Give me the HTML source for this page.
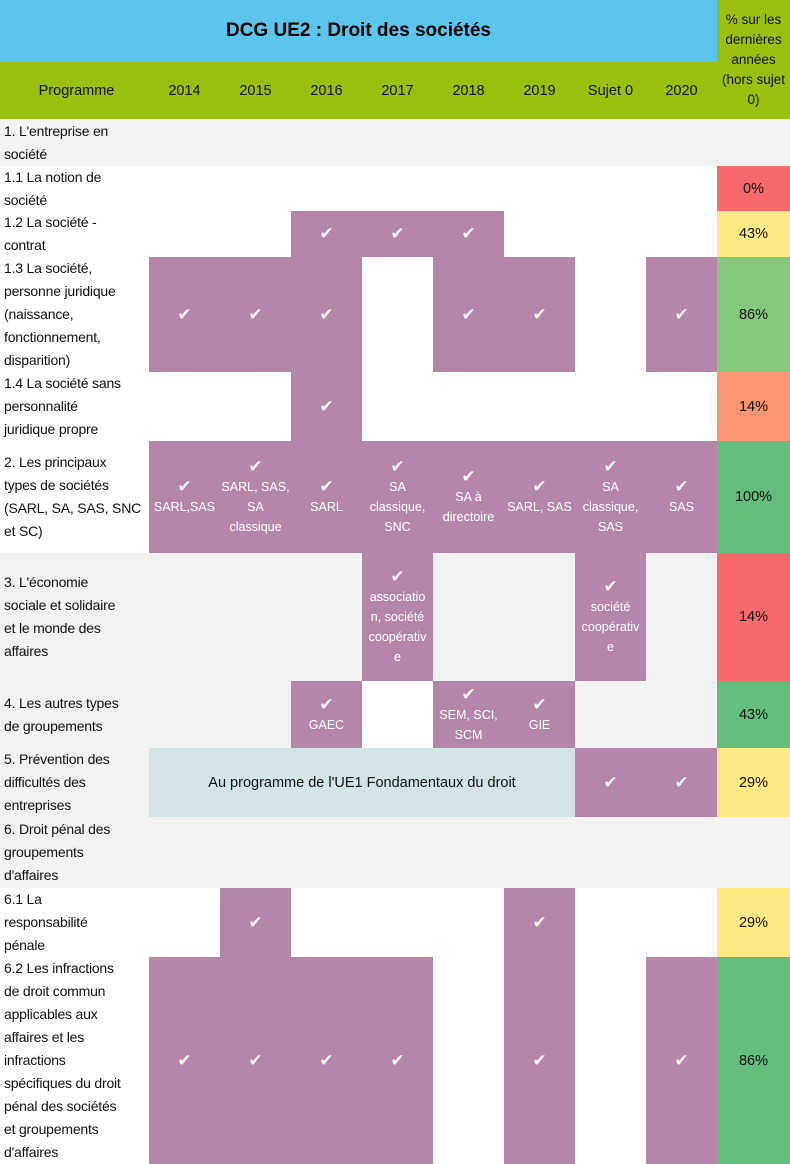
<!DOCTYPE html>
<html><head><meta charset="utf-8"><style>
body{margin:0;width:790px;height:1164px;position:relative;overflow:hidden;background:#fff;font-family:"Liberation Sans",sans-serif;}
.a{position:absolute;box-sizing:border-box;display:flex;align-items:center;justify-content:center;text-align:center;}
.lab{justify-content:flex-start;text-align:left;padding-left:4px;font-size:14px;line-height:23px;color:#111;white-space:nowrap;letter-spacing:-0.2px;}
.pc{font-size:14.5px;color:#111;}
.cell{flex-direction:column;color:#fff;font-size:12.5px;line-height:20px;white-space:nowrap;}
.ck{font-family:"DejaVu Sans",sans-serif;font-size:17px;line-height:20px;color:#f4f4f4;}
</style></head><body>
<div class="a" style="left:0;top:0;width:717px;height:62px;background:#5bc5ed;font-weight:bold;font-size:19px;">DCG UE2 : Droit des sociétés</div>
<div class="a" style="left:0;top:62px;width:717px;height:57px;background:#99c00e;"></div>
<div class="a" style="left:717px;top:0;width:73px;height:119px;background:#99c00e;font-size:13.5px;line-height:20px;color:#111;">% sur les<br>dernières<br>années<br>(hors sujet<br>0)</div>
<div id="root"></div>
<script>
const years=["2014","2015","2016","2017","2018","2019","Sujet 0","2020"];
const rowY=[119,166,211,257,372,441,553,681,748,817,888,957,1164];
const labels=[["1. L'entreprise en","société"],["1.1 La notion de","société"],["1.2 La société -","contrat"],["1.3 La société,","personne juridique","(naissance,","fonctionnement,","disparition)"],["1.4 La société sans","personnalité","juridique propre"],["2. Les principaux","types de sociétés","(SARL, SA, SAS, SNC","et SC)"],["3. L'économie","sociale et solidaire","et le monde des","affaires"],["4. Les autres types","de groupements"],["5. Prévention des","difficultés des","entreprises"],["6. Droit pénal des","groupements","d'affaires"],["6.1 La","responsabilité","pénale"],["6.2 Les infractions","de droit commun","applicables aux","affaires et les","infractions","spécifiques du droit","pénal des sociétés","et groupements","d'affaires"]];
const percents=["","0%","43%","86%","14%","100%","14%","43%","29%","","29%","86%"];
const pctColors=["","#f8696b","#ffe984","#85c87c","#fa9473","#63be7b","#f8696b","#63be7b","#ffe984","","#ffe984","#63be7b"];
const grayRows=[0,6,7,8,9];
const cells=[[2,2,[]],[2,3,[]],[2,4,[]],
[3,0,[]],[3,1,[]],[3,2,[]],[3,4,[]],[3,5,[]],[3,7,[]],
[4,2,[]],
[5,0,["SARL,SAS"]],[5,1,["SARL, SAS,","SA","classique"]],[5,2,["SARL"]],[5,3,["SA","classique,","SNC"]],[5,4,["SA à","directoire"]],[5,5,["SARL, SAS"]],[5,6,["SA","classique,","SAS"]],[5,7,["SAS"]],
[6,3,["associatio","n, société","coopérativ","e"]],[6,6,["société","coopérativ","e"]],
[7,2,["GAEC"]],[7,4,["SEM, SCI,","SCM"]],[7,5,["GIE"]],
[8,6,[]],[8,7,[]],
[10,1,[]],[10,5,[]],
[11,0,[]],[11,1,[]],[11,2,[]],[11,3,[]],[11,5,[]],[11,7,[]]];
const root=document.getElementById('root');
const colX=c=>149+c*71;
function div(cls,st,html){const d=document.createElement('div');d.className='a '+cls;d.style.cssText=st;d.innerHTML=html;root.appendChild(d);return d;}
const ph=div('', 'left:4px;top:62px;width:145px;height:57px;font-size:14.5px;color:#111;', 'Programme');


years.forEach((y,i)=>{const d=div('','left:'+colX(i)+'px;top:62px;width:71px;height:57px;font-size:14.5px;color:#111;',y);

});
labels.forEach((l,r)=>{
 const t=rowY[r],h=rowY[r+1]-t;
 if(grayRows.includes(r)){const g=div('','left:0;top:'+t+'px;width:790px;height:'+h+'px;background:#f2f2f2;','');
 
 }
 const d=div('lab','left:0;top:'+t+'px;width:149px;height:'+h+'px;',l.join('<br>'));
 
 
 if(percents[r]){const p=div('pc','left:717px;top:'+t+'px;width:73px;height:'+h+'px;background:'+pctColors[r]+';',percents[r]);
 
 }
});
const w=div('','left:362px;top:681px;width:71px;height:67px;background:#fff;','');


const band=div('','left:149px;top:748px;width:426px;height:69px;background:#d3e3e6;font-size:14.5px;color:#111;',"Au programme de l'UE1 Fondamentaux du droit");


cells.forEach(([r,c,txt])=>{
 const t=rowY[r],h=rowY[r+1]-t;
 const d=div('cell','left:'+colX(c)+'px;top:'+t+'px;width:71px;height:'+h+'px;background:#b586a9;','<span class="ck">✔</span>'+(txt.length?'<span>'+txt.join('<br>')+'</span>':''));
 
 
});
</script>
</body></html>
